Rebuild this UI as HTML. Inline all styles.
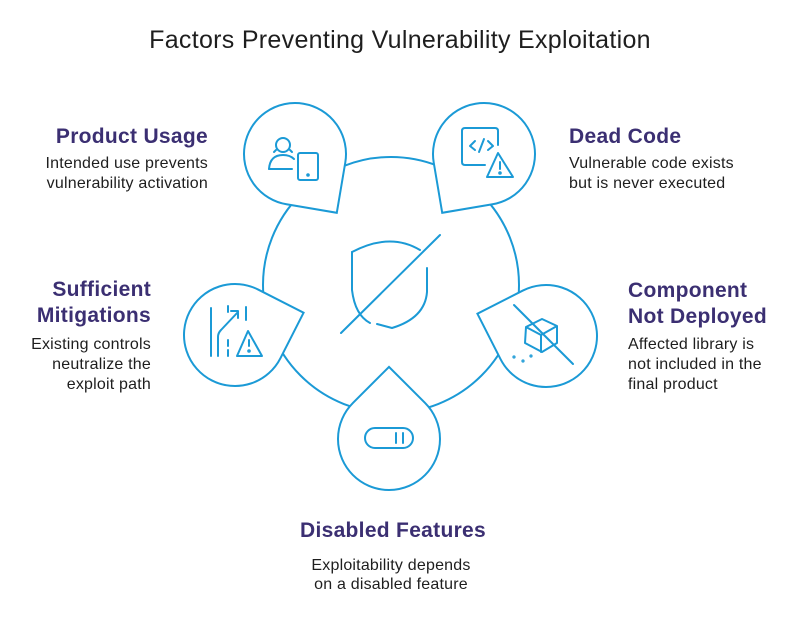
<!DOCTYPE html>
<html><head><meta charset="utf-8"><style>
body{margin:0;background:#fff;}
svg text{font-family:"Liberation Sans",sans-serif;}
.t{font-weight:bold;font-size:21px;fill:#3b2f72;letter-spacing:0.3px}
.d{font-size:16px;fill:#1e1e1e;letter-spacing:0.2px}
</style></head><body>
<svg width="800" height="620" viewBox="0 0 800 620" xmlns="http://www.w3.org/2000/svg">
<text x="400" y="48" text-anchor="middle" font-size="25" fill="#1e1e1e" letter-spacing="0.3">Factors Preventing Vulnerability Exploitation</text>
<g fill="none" stroke="#1b9ad6" stroke-width="2" stroke-linecap="round" stroke-linejoin="round">
<circle cx="391" cy="285" r="128"/>
<!-- center icon -->
<path d="M352 252 Q390 232 420 250" />
<path d="M352 252 L352 290 Q355 315 370 323"/>
<path d="M427 268 L427 292 Q425 318 392 328 L377 324"/>
<line x1="341" y1="333" x2="440" y2="235"/>
</g>
<g fill="#fff" stroke="#1b9ad6" stroke-width="2" stroke-linejoin="miter">
<path transform="translate(295,154) rotate(9.6)" d="M-51,0 A51 51 0 0 1 0,-51 A51 51 0 0 1 51,0 L51,51 L0,51 A51 51 0 0 1 -51,0 Z"/>
<path transform="translate(484,154) rotate(80.4)" d="M-51,0 A51 51 0 0 1 0,-51 A51 51 0 0 1 51,0 L51,51 L0,51 A51 51 0 0 1 -51,0 Z"/>
<path transform="translate(235,335) rotate(-63)" d="M-51,0 A51 51 0 0 1 0,-51 A51 51 0 0 1 51,0 L51,51 L0,51 A51 51 0 0 1 -51,0 Z"/>
<path transform="translate(546,336) rotate(153)" d="M-51,0 A51 51 0 0 1 0,-51 A51 51 0 0 1 51,0 L51,51 L0,51 A51 51 0 0 1 -51,0 Z"/>
<path transform="translate(389,439) rotate(-135)" d="M-51,0 A51 51 0 0 1 0,-51 A51 51 0 0 1 51,0 L51,51 L0,51 A51 51 0 0 1 -51,0 Z"/>
</g>
<g fill="none" stroke="#1b9ad6" stroke-width="2" stroke-linecap="round" stroke-linejoin="round">
<!-- product usage icon -->
<circle cx="283" cy="145" r="7"/>
<path d="M276 150 L274 152 M290 150 L292 152"/>
<path d="M269 169 Q270 155 283 155 Q290 155 294 159"/>
<line x1="269" y1="169" x2="292" y2="169"/>
<rect x="298" y="153" width="20" height="27" rx="2"/>
<circle cx="308" cy="175" r="0.8" fill="#1b9ad6"/>
<!-- dead code icon -->
<path d="M498 145 L498 131 Q498 128 495 128 L465 128 Q462 128 462 131 L462 162 Q462 165 465 165 L485 165"/>
<path d="M475 141 L470 146 L475 150 M488 141 L493 146 L488 150 M484 139 L479 152"/>
<path d="M498 153 L487 177 L513 177 Z"/>
<path d="M500 162 L500 169"/><circle cx="500" cy="173" r="0.8"/>
<!-- mitigations icon -->
<path d="M211 308 L211 356 M218 356 L218 337 Q218 333 221 330 L238 312 M231 311 L238 311 L238 318 M228 306 L228 312 M228 340 L228 346 M228 350 L228 356 M246 307 L246 320"/>
<path d="M248 331 L237 356 L262 356 Z M249 340 L249 346"/><circle cx="249" cy="351" r="0.8"/>
<!-- component icon -->
<path d="M526 327 L542 319 L557 326 L557 343 L542 352 L525 343 Z M526 327 L541 335 L557 326 M541 335 L541 352"/>
<line x1="514" y1="305" x2="573" y2="364"/>
<circle cx="514" cy="357" r="0.6"/><circle cx="523" cy="361" r="0.6"/><circle cx="531" cy="356" r="0.6"/>
<!-- toggle icon -->
<rect x="365" y="428" width="48" height="20" rx="10"/>
<path d="M396 433 L396 443 M403 433 L403 443"/>
</g>
<text class="t" x="208" y="143" text-anchor="end">Product Usage</text>
<text class="d" x="208" y="168" text-anchor="end">Intended use prevents</text>
<text class="d" x="208" y="188" text-anchor="end">vulnerability activation</text>
<text class="t" x="569" y="143">Dead Code</text>
<text class="d" x="569" y="168">Vulnerable code exists</text>
<text class="d" x="569" y="188">but is never executed</text>
<text class="t" x="151" y="296" text-anchor="end">Sufficient</text>
<text class="t" x="151" y="322" text-anchor="end">Mitigations</text>
<text class="d" x="151" y="349" text-anchor="end">Existing controls</text>
<text class="d" x="151" y="369" text-anchor="end">neutralize the</text>
<text class="d" x="151" y="389" text-anchor="end">exploit path</text>
<text class="t" x="628" y="297">Component</text>
<text class="t" x="628" y="323">Not Deployed</text>
<text class="d" x="628" y="349">Affected library is</text>
<text class="d" x="628" y="369">not included in the</text>
<text class="d" x="628" y="389">final product</text>
<text class="t" x="393" y="537" text-anchor="middle">Disabled Features</text>
<text class="d" x="391" y="570" text-anchor="middle">Exploitability depends</text>
<text class="d" x="391" y="589" text-anchor="middle">on a disabled feature</text>
</svg>
</body></html>
